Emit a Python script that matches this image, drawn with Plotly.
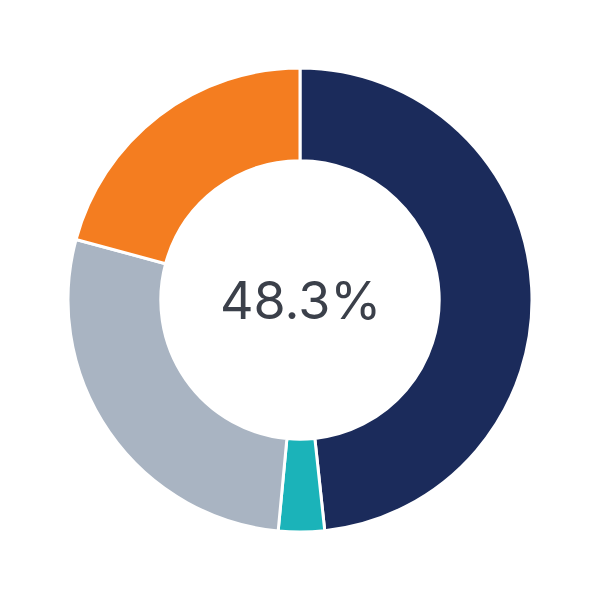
import plotly.graph_objects as go

# slice data, clockwise from 12 o'clock
labels = ['Segment A', 'Segment B', 'Segment C', 'Segment D']
values = [48.3, 3.2, 27.7, 20.8]
colors = ['#1b2b5b', '#1bb3b9', '#a9b4c2', '#f47d20']
center_text = '48.3%'

fig = go.Figure(go.Pie(
    labels=labels,
    values=values,
    hole=0.6,
    sort=False,
    direction='clockwise',
    rotation=0,
    textinfo='none',
    hoverinfo='label+percent',
    marker=dict(colors=colors, line=dict(color='white', width=3)),
))

fig.add_annotation(text=center_text, x=0.5, y=0.5, xref='paper', yref='paper',
                   showarrow=False, font=dict(family='Inter', size=52, color='#3b404a'))

fig.update_layout(
    width=600, height=600,
    showlegend=False,
    paper_bgcolor='white',
    margin=dict(l=68, r=68, t=68, b=68),
)

# drop the default page margin so the figure sits at the window's corner
fig.write_html('out.html', config={'displayModeBar': False},
               post_script="document.body.style.margin='0';")
